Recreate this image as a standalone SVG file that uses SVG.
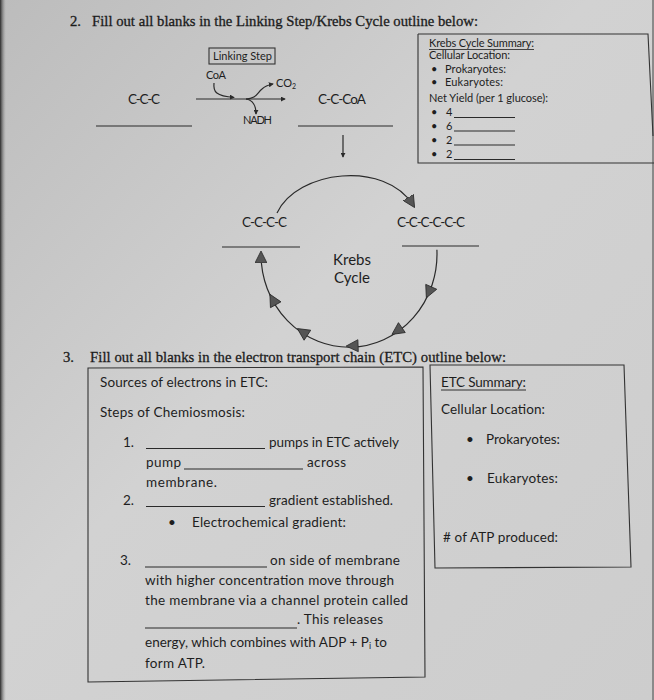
<svg xmlns="http://www.w3.org/2000/svg" xmlns:xlink="http://www.w3.org/1999/xlink" width="654" height="700" viewBox="0 0 654 700">
<defs>
<linearGradient id="bg" x1="0" y1="0" x2="1" y2="1">
<stop offset="0" stop-color="#bcbcbc"/>
<stop offset="0.45" stop-color="#d2d2d2"/>
<stop offset="1" stop-color="#cdcdcd"/>
</linearGradient>
<linearGradient id="edgeL" x1="0" y1="0" x2="1" y2="0">
<stop offset="0" stop-color="#2a2a2a"/>
<stop offset="1" stop-color="#9a9a9a" stop-opacity="0"/>
</linearGradient>
<marker id="ah" viewBox="0 0 6 6" markerUnits="userSpaceOnUse" markerWidth="5" markerHeight="5" refX="5" refY="3" orient="auto">
<path d="M0,0 L6,3 L0,6 Z" fill="#2a2a2a"/>
</marker>
<marker id="big" viewBox="0 0 12 12" markerUnits="userSpaceOnUse" markerWidth="12" markerHeight="12" refX="9" refY="6" orient="auto">
<path d="M0,0 L12,6 L0,12 Z" fill="#555" stroke="#2a2a2a" stroke-width="0.8"/>
</marker>
<path id="tri" d="M6,0 L-6,-6 L-6,6 Z" fill="#555" stroke="#2a2a2a" stroke-width="0.8"/>
</defs>
<style>
.serif{font-family:"Liberation Serif","Times New Roman",serif;font-size:14.7px;fill:#1c1c1c;stroke:#1c1c1c;stroke-width:0.3}
.sans{font-family:Lato,"Liberation Sans",sans-serif;fill:#1e1e1e}
.s10{font-size:11px}
.s11{font-size:11px}
.s13{font-size:13.5px}
.s15{font-size:15px}
.ln{stroke:#2a2a2a;stroke-width:1.2;fill:none}
.box{stroke:#333;stroke-width:1.1;fill:none}
.blank{stroke:#2a2a2a;stroke-width:1.1}
</style>
<rect width="654" height="700" fill="url(#bg)"/>
<rect x="0" y="0" width="6" height="700" fill="url(#edgeL)"/>
<rect x="652" y="0" width="2" height="700" fill="#8a8a8a"/>

<g id="header2">
<text class="serif" x="70" y="26">2.</text>
<text class="serif" x="92" y="26" textLength="386">Fill out all blanks in the Linking Step/Krebs Cycle outline below:</text>
</g>

<g id="linking-step">
<rect class="box" x="209" y="48" width="66" height="16"/>
<text class="sans s11" x="213" y="60" textLength="59">Linking Step</text>
<text class="sans s10" x="206" y="79" textLength="20">CoA</text>
<text class="sans s10" x="276" y="87">CO<tspan font-size="7" dy="2">2</tspan></text>
<text class="sans s10" x="243" y="124" textLength="29">NADH</text>
</g>

<g id="ccc">
<text class="sans s13" x="128" y="104" textLength="32">C-C-C</text>
<line class="blank" x1="96" y1="126" x2="192" y2="126"/>
</g>
<g id="cccoa">
<text class="sans s13" x="318" y="104" textLength="48">C-C-CoA</text>
<line class="blank" x1="298" y1="126" x2="393" y2="126"/>
</g>

<g id="krebs-summary">
<path class="box" d="M418,34 H648 L653,136 M418,34 V163 H654"/>
<text class="sans s10" x="429" y="47" textLength="105">Krebs Cycle Summary:</text>
<line x1="429" y1="49.5" x2="534" y2="49.5" stroke="#1e1e1e" stroke-width="0.8"/>
<text class="sans s10" x="429" y="59" textLength="81">Cellular Location:</text>
<text class="sans s10" x="431" y="73">•</text>
<text class="sans s10" x="445" y="73" textLength="61">Prokaryotes:</text>
<text class="sans s10" x="431" y="86">•</text>
<text class="sans s10" x="445" y="86" textLength="58">Eukaryotes:</text>
<text class="sans s10" x="429" y="102" textLength="119">Net Yield (per 1 glucose):</text>
<text class="sans s10" x="431" y="116">•</text>
<text class="sans s10" x="446" y="116">4</text>
<line class="blank" x1="454" y1="117.5" x2="515" y2="117.5"/>
<text class="sans s10" x="431" y="130">•</text>
<text class="sans s10" x="446" y="130">6</text>
<line class="blank" x1="454" y1="131" x2="515" y2="131"/>
<text class="sans s10" x="431" y="144">•</text>
<text class="sans s10" x="446" y="144">2</text>
<line class="blank" x1="454" y1="145" x2="515" y2="145"/>
<text class="sans s10" x="431" y="158">•</text>
<text class="sans s10" x="446" y="158">2</text>
<line class="blank" x1="454" y1="159.5" x2="515" y2="159.5"/>
</g>

<g id="c4">
<text class="sans s13" x="242" y="227" textLength="45">C-C-C-C</text>
<line class="blank" x1="222" y1="247" x2="300" y2="247"/>
</g>
<g id="c6">
<text class="sans s13" x="397" y="227" textLength="68">C-C-C-C-C-C</text>
<line class="blank" x1="402" y1="246" x2="479" y2="246"/>
</g>
<g id="krebs-cycle">
<text class="sans s15" x="352" y="265" text-anchor="middle">Krebs</text>
<text class="sans s15" x="352" y="283" text-anchor="middle">Cycle</text>
</g>

<g id="connectors">
<path class="ln" d="M196,99 H285" marker-end="url(#ah)"/>
<path class="ln" d="M214,83 C213,92 216,96 234,97.5" marker-end="url(#ah)"/>
<path class="ln" d="M246,99 C256,99 257,93 262,89 C265,86 268,85 273,84" marker-end="url(#ah)"/>
<path class="ln" d="M246,99 C252,100 256,104 256,114" marker-end="url(#ah)"/>
<path class="ln" d="M343,135 V157" marker-end="url(#ah)"/>
<path class="ln" d="M277,213 C297,170 385,160 413,205" marker-end="url(#big)"/>
<path class="ln" d="M436.9,249.8 A88,93 0 1 1 261,254" marker-end="url(#big)"/>
<use xlink:href="#tri" href="#tri" transform="translate(428.8,292.3) rotate(114)"/>
<use xlink:href="#tri" href="#tri" transform="translate(396.9,331) rotate(145.5)"/>
<use xlink:href="#tri" href="#tri" transform="translate(352.1,345.9) rotate(178)"/>
<use xlink:href="#tri" href="#tri" transform="translate(302.4,331.9) rotate(213.5)"/>
<use xlink:href="#tri" href="#tri" transform="translate(272.8,299.5) rotate(241)"/>
</g>

<g id="header3">
<text class="serif" x="63" y="362">3.</text>
<text class="serif" x="90" y="362" textLength="416">Fill out all blanks in the electron transport chain (ETC) outline below:</text>
</g>

<g id="etc-box">
<path class="box" d="M88,368 L423,367 L425,677 L88,682 Z"/>
<text class="sans s13" x="100" y="387" textLength="168">Sources of electrons in ETC:</text>
<text class="sans s13" x="100" y="417" textLength="145">Steps of Chemiosmosis:</text>
<text class="sans s13" x="123" y="447">1.</text>
<line class="blank" x1="146" y1="448.5" x2="265" y2="448.5"/>
<text class="sans s13" x="269" y="447" textLength="130">pumps in ETC actively</text>
<text class="sans s13" x="146" y="467" textLength="35">pump</text>
<line class="blank" x1="184" y1="469" x2="303" y2="469"/>
<text class="sans s13" x="307" y="467" textLength="39">across</text>
<text class="sans s13" x="146" y="487" textLength="71">membrane.</text>
<text class="sans s13" x="123" y="505">2.</text>
<line class="blank" x1="146" y1="506.5" x2="265" y2="506.5"/>
<text class="sans s13" x="269" y="505" textLength="124">gradient established.</text>
<text class="sans s13" x="168" y="527">•</text>
<text class="sans s13" x="192" y="527" textLength="154">Electrochemical gradient:</text>
<text class="sans s13" x="120" y="565">3.</text>
<line class="blank" x1="145" y1="567" x2="267" y2="567"/>
<text class="sans s13" x="270" y="565" textLength="130">on side of membrane</text>
<text class="sans s13" x="145" y="585" textLength="249">with higher concentration move through</text>
<text class="sans s13" x="145" y="605" textLength="263">the membrane via a channel protein called</text>
<line class="blank" x1="145" y1="628" x2="297" y2="628"/>
<text class="sans s13" x="297" y="624" textLength="86">. This releases</text>
<text class="sans s13" x="145" y="647">energy, which combines with ADP + P<tspan font-size="9" dy="2">i</tspan><tspan dy="-2"> to</tspan></text>
<text class="sans s13" x="145" y="668" textLength="60">form ATP.</text>
</g>

<g id="etc-summary">
<path class="box" d="M430,365 L624,365 L631,567 L435,568 Z"/>
<text class="sans s13" x="441" y="387" textLength="85">ETC Summary:</text>
<line x1="441" y1="390" x2="526" y2="390" stroke="#1e1e1e" stroke-width="0.9"/>
<text class="sans s13" x="441" y="414" textLength="104">Cellular Location:</text>
<text class="sans s13" x="466" y="444">•</text>
<text class="sans s13" x="486" y="444" textLength="74">Prokaryotes:</text>
<text class="sans s13" x="466" y="483">•</text>
<text class="sans s13" x="487" y="483" textLength="71">Eukaryotes:</text>
<text class="sans s13" x="443" y="542" textLength="115"># of ATP produced:</text>
</g>
</svg>
